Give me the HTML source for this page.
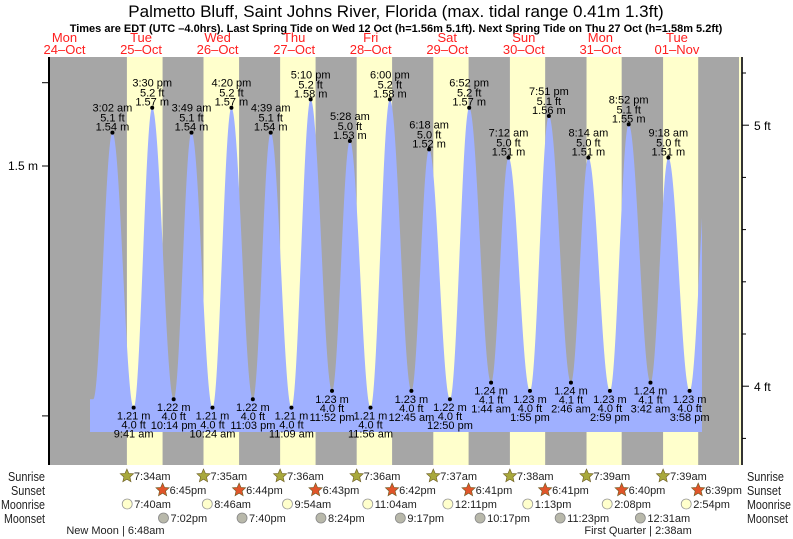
<!DOCTYPE html>
<html><head><meta charset="utf-8"><style>
body{margin:0;background:#fff;}
svg{display:block;font-family:"Liberation Sans",sans-serif;}
</style></head><body>
<svg id="c" width="793" height="539" viewBox="0 0 793 539">
<text x="396" y="17" text-anchor="middle" font-size="17" fill="#000">Palmetto Bluff, Saint Johns River, Florida (max. tidal range 0.41m 1.3ft)</text>
<text x="396" y="32" text-anchor="middle" font-size="11" font-weight="bold" fill="#000">Times are EDT (UTC –4.0hrs). Last Spring Tide on Wed 12 Oct (h=1.56m 5.1ft). Next Spring Tide on Thu 27 Oct (h=1.58m 5.2ft)</text>
<g id="bands"></g><g id="tide"></g><g id="axes"></g><g id="labels"></g><g id="bottom"></g>
</svg>
<script>
const dayNames=["Mon","Tue","Wed","Thu","Fri","Sat","Sun","Mon","Tue"];
const dayDates=["24–Oct","25–Oct","26–Oct","27–Oct","28–Oct","29–Oct","30–Oct","31–Oct","01–Nov"];
const sunrise=["7:34am","7:35am","7:36am","7:36am","7:37am","7:38am","7:39am","7:39am"];
const sunset=["6:45pm","6:44pm","6:43pm","6:42pm","6:41pm","6:41pm","6:40pm","6:39pm"];
const moonrise=["7:40am","8:46am","9:54am","11:04am","12:11pm","1:13pm","2:08pm","2:54pm"];
const moonsetDay=[1,2,3,4,5,6,8];
const moonset=["7:02pm","7:40pm","8:24pm","9:17pm","10:17pm","11:23pm","12:31am"];
// tide extremes: day index (0=Mon 24 Oct), time, metres, feet
const tideDay=[0,1,1,1,1,2,2,2,2,3,3,3,3,4,4,4,5,5,5,5,6,6,6,6,7,7,7,7,8,8,8,8];
const tideTime=["9:00pm","3:02am","9:41am","3:30pm","10:14pm","3:49am","10:24am","4:20pm","11:03pm","4:39am","11:09am","5:10pm","11:52pm","5:28am","11:56am","6:00pm","12:45am","6:18am","12:50pm","6:52pm","1:44am","7:12am","1:55pm","7:51pm","2:46am","8:14am","2:59pm","8:52pm","3:42am","9:18am","3:58pm","10:10pm"];
const tideM=[1.22,1.54,1.21,1.57,1.22,1.54,1.21,1.57,1.22,1.54,1.21,1.58,1.23,1.53,1.21,1.58,1.23,1.52,1.22,1.57,1.24,1.51,1.23,1.56,1.24,1.51,1.23,1.55,1.24,1.51,1.23,1.53];
const tideFt=["4.0","5.1","4.0","5.2","4.0","5.1","4.0","5.2","4.0","5.1","4.0","5.2","4.0","5.0","4.0","5.2","4.0","5.0","4.0","5.2","4.1","5.0","4.0","5.1","4.1","5.0","4.0","5.1","4.1","5.0","4.0","5.0"];
const moonPhase=["New Moon | 6:48am","First Quarter | 2:38am"];
const moonPhaseDay=[1,8];const moonPhaseTime=["6:48am","2:38am"];

const NS="http://www.w3.org/2000/svg";
const PL=49,PR=742,PT=57,PB=465;
const PXH=3.19,X0=26.2;
function hrs(s){const m=s.match(/(\d+):(\d+)(am|pm)/);let h=+m[1]%12;if(m[3]=="pm")h+=12;return h+ +m[2]/60;}
function xT(day,t){return X0+(day*24+hrs(t))*PXH;}
function yM(m){return 166-(m-1.5)*833;}
function el(tag,attrs,parent,txt){const e=document.createElementNS(NS,tag);for(const k in attrs)e.setAttribute(k,attrs[k]);if(txt!=null)e.textContent=txt;parent.appendChild(e);return e;}
const bands=document.getElementById('bands'),tide=document.getElementById('tide'),axes=document.getElementById('axes'),labels=document.getElementById('labels'),bottom=document.getElementById('bottom');

let r=el('rect',{x:PL,y:PT,width:PR-PL,height:PB-PT,fill:'#a6a6a6'},bands);

for(let i=0;i<sunrise.length;i++){
  const x1=xT(i+1,sunrise[i]),x2=xT(i+1,sunset[i]);
  const b=el('rect',{x:x1,y:PT,width:x2-x1,height:PB-PT,fill:'#ffffcc'},bands);
  
  
}
{const x1=xT(9,"7:40am");const b=el('rect',{x:x1,y:PT,width:Math.max(0,PR-x1),height:PB-PT,fill:'#ffffcc'},bands);

}
for(let i=0;i<dayNames.length;i++){
  const x=xT(i,"12:00pm");
  const t=el('text',{x:x,y:42,'text-anchor':'middle','font-size':13,fill:'#ff2020'},labels,dayNames[i]);
  
  const d=el('text',{x:x,y:54,'text-anchor':'middle','font-size':13,fill:'#ff2020'},labels,dayDates[i]);
  
}
const xs=tideTime.map((t,i)=>xT(tideDay[i],t));
const FX1=90,FX2=702,FB=432;
let pts=[];
for(let x=FX1;x<=FX2;x+=0.5){
  let k=0;while(k<xs.length-2&&xs[k+1]<x)k++;
  const a=xs[k],b=xs[k+1];let f=(x-a)/(b-a);f=Math.max(0,Math.min(1,f));
  const v=tideM[k]+(tideM[k+1]-tideM[k])*(1-Math.cos(Math.PI*f))/2;
  pts.push(x.toFixed(1)+','+yM(v).toFixed(1));
}
const poly=el('polygon',{points:FX1+','+FB+' '+pts.join(' ')+' '+FX2+','+FB,fill:'#9fb0ff'},tide);

for(let i=1;i<tideTime.length-1;i++){
  const x=xs[i],y=yM(tideM[i]);
  const dot=el('circle',{cx:x,cy:y,r:2,fill:'#000'},labels);
  
  const high=tideM[i]>1.4;
  const lines=high?[tideTime[i].replace(/(am|pm)/,' $1'),tideFt[i]+' ft',tideM[i].toFixed(2)+' m']:[tideM[i].toFixed(2)+' m',tideFt[i]+' ft',tideTime[i].replace(/(am|pm)/,' $1')];
  const ys=high?[y-21,y-11,y-2]:[y+12,y+21,y+30];
  lines.forEach((s,j)=>{const t=el('text',{x:x,y:ys[j],'text-anchor':'middle','font-size':11,fill:'#000'},labels,s);
    
    });
}
el('line',{x1:PL,y1:PT,x2:PL,y2:PB,stroke:'#000','stroke-width':2},axes);
el('line',{x1:PR,y1:PT,x2:PR,y2:PB,stroke:'#333','stroke-width':2},axes);
el('rect',{x:PR-3,y:PT,width:2,height:PB-PT,fill:'#ffffcc'},axes);
[1.2,1.5,1.6].forEach(m=>{el('line',{x1:PL-7,y1:yM(m),x2:PL,y2:yM(m),stroke:'#000'},axes);});
const l15=el('text',{x:PL-11,y:yM(1.5)+4,'text-anchor':'end','font-size':12},axes,'1.5 m');

for(let k=0;k<8;k++){const y=73+k*52.2;const major=(k==1||k==6);
  el('line',{x1:PR,y1:y,x2:PR+(major?7:4),y2:y,stroke:'#000'},axes);}
const f5=el('text',{x:PR+12,y:130,'font-size':12},axes,'5 ft');
const f4=el('text',{x:PR+12,y:391,'font-size':12},axes,'4 ft');
const rows=[["Sunrise",476,37],["Sunset",490,34],["Moonrise",504,44],["Moonset",518,41]];
rows.forEach(r=>{
  const a=el('text',{x:45,y:r[1]+5,'text-anchor':'end','font-size':13,fill:'#222',textLength:r[2],lengthAdjust:'spacingAndGlyphs'},bottom,r[0]);
  
  const b=el('text',{x:747,y:r[1]+5,'font-size':13,fill:'#222',textLength:r[2],lengthAdjust:'spacingAndGlyphs'},bottom,r[0]);
  
});
function star(cx,cy,fill){let p=[];for(let k=0;k<10;k++){const a=-Math.PI/2+k*Math.PI/5,rr=k%2?3.2:7;p.push((cx+rr*Math.cos(a)).toFixed(1)+','+(cy+rr*Math.sin(a)).toFixed(1));}
  return el('polygon',{points:p.join(' '),fill:fill,stroke:'#6a5a20','stroke-width':0.6},bottom);}
for(let i=0;i<sunrise.length;i++){
  let x=xT(i+1,sunrise[i]);let s=star(x,476,'#a8a83c');
  el('text',{x:x+7,y:480,'font-size':11,fill:'#222'},bottom,sunrise[i]);
  x=xT(i+1,sunset[i]);s=star(x,490,'#e0552a');
  el('text',{x:x+7,y:494,'font-size':11,fill:'#222'},bottom,sunset[i]);
  x=xT(i+1,moonrise[i]);const c=el('circle',{cx:x,cy:504,r:5,fill:'#ffffcc',stroke:'#999','stroke-width':0.8},bottom);
  
  el('text',{x:x+7,y:508,'font-size':11,fill:'#222'},bottom,moonrise[i]);
}
for(let i=0;i<moonset.length;i++){
  const x=xT(moonsetDay[i],moonset[i]);const c=el('circle',{cx:x,cy:518,r:5,fill:'#b8b8aa',stroke:'#888','stroke-width':0.8},bottom);
  
  el('text',{x:x+7,y:522,'font-size':11,fill:'#222'},bottom,moonset[i]);
}
for(let i=0;i<moonPhase.length;i++){
  const x=xT(moonPhaseDay[i],moonPhaseTime[i])-9;
  const t=el('text',{x:x,y:534,'text-anchor':'middle','font-size':11,fill:'#222'},bottom,moonPhase[i]);
  
}
</script>
</body></html>
